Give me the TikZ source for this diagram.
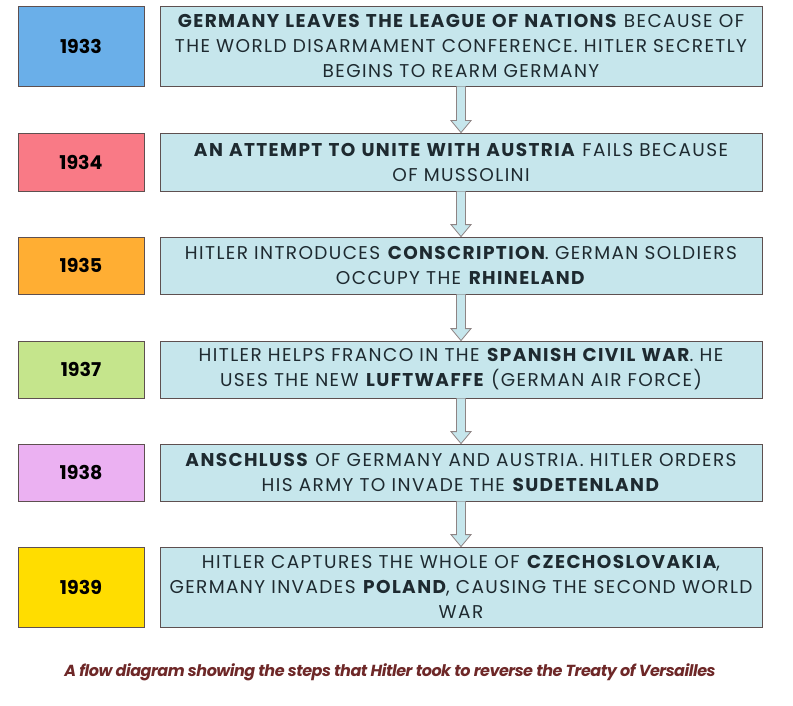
\documentclass[tikz,border=0pt]{standalone}
\usepackage{fontspec}
\usepackage{tikz}
\usetikzlibrary{calc}
\setmainfont{Poppins}
\newfontfamily\eventfont[LetterSpace=7.5]{Poppins}
\newfontfamily\capfont[LetterSpace=-3]{Poppins}

\definecolor{yearA}{HTML}{6AAFE9}
\definecolor{yearB}{HTML}{F97A86}
\definecolor{yearC}{HTML}{FFAE33}
\definecolor{yearD}{HTML}{C5E58C}
\definecolor{yearE}{HTML}{EBB1F2}
\definecolor{yearF}{HTML}{FFDD00}
\definecolor{eventfill}{HTML}{C6E6EC}
\definecolor{boxline}{HTML}{5E5050}
\definecolor{eventtext}{HTML}{1E2A30}
\definecolor{captext}{HTML}{6E2828}

\tikzset{
  yearbox/.style={draw=boxline,thick,minimum width=126pt,inner sep=0pt,
    font=\fontsize{19}{20}\selectfont\bfseries},
  eventbox/.style={draw=boxline,thick,fill=eventfill,minimum width=602pt,inner sep=0pt,
    text width=598pt,align=center,text=eventtext,font=\eventfont\fontsize{18.5}{25}\selectfont},
  flowarrow/.style={draw=boxline!70,thick,fill=eventfill,to path={
    ($(\tikztostart)+(-4.5,0)$) -- ($(\tikztotarget)+(-4.5,-12)$)
    -- ($(\tikztotarget)+(-10,-12)$) -- (\tikztotarget)
    -- ($(\tikztotarget)+(10,-12)$) -- ($(\tikztotarget)+(4.5,-12)$)
    -- ($(\tikztostart)+(4.5,0)$)}}
}

\begin{document}
\begin{tikzpicture}[x=1pt,y=-1pt]
  \useasboundingbox[fill=white] (0,0) rectangle (793,706);

  \node[yearbox,fill=yearA,minimum height=80pt] (y1) at (81,46)    {1933};
  \node[yearbox,fill=yearB,minimum height=58pt] (y2) at (81,162)   {1934};
  \node[yearbox,fill=yearC,minimum height=57pt] (y3) at (81,265.5) {1935};
  \node[yearbox,fill=yearD,minimum height=57pt] (y4) at (81,369.5) {1937};
  \node[yearbox,fill=yearE,minimum height=57pt] (y5) at (81,472.5) {1938};
  \node[yearbox,fill=yearF,minimum height=80pt] (y6) at (81,587)   {1939};

  \node[eventbox,minimum height=80pt] (e1) at (461,46)
    {\textbf{GERMANY LEAVES THE LEAGUE OF NATIONS} BECAUSE OF\\
     THE WORLD DISARMAMENT CONFERENCE. HITLER SECRETLY\\
     BEGINS TO REARM GERMANY};
  \node[eventbox,minimum height=58pt] (e2) at (461,162)
    {\textbf{AN ATTEMPT TO UNITE WITH AUSTRIA} FAILS BECAUSE\\
     OF MUSSOLINI};
  \node[eventbox,minimum height=57pt] (e3) at (461,265.5)
    {HITLER INTRODUCES \textbf{CONSCRIPTION}. GERMAN SOLDIERS\\
     OCCUPY THE \textbf{RHINELAND}};
  \node[eventbox,minimum height=57pt] (e4) at (461,369.5)
    {HITLER HELPS FRANCO IN THE \textbf{SPANISH CIVIL WAR}. HE\\
     USES THE NEW \textbf{LUFTWAFFE} (GERMAN AIR FORCE)};
  \node[eventbox,minimum height=57pt] (e5) at (461,472.5)
    {\textbf{ANSCHLUSS} OF GERMANY AND AUSTRIA. HITLER ORDERS\\
     HIS ARMY TO INVADE THE \textbf{SUDETENLAND}};
  \node[eventbox,minimum height=80pt] (e6) at (461,587)
    {HITLER CAPTURES THE WHOLE OF \textbf{CZECHOSLOVAKIA},\\
     GERMANY INVADES \textbf{POLAND}, CAUSING THE SECOND WORLD\\
     WAR};

  \node[text=captext,font=\capfont\bfseries\itshape\fontsize{16}{18}\selectfont] (cap) at (390,672)
    {A flow diagram showing the steps that Hitler took to reverse the Treaty of Versailles};

  \draw (e1.south) edge[flowarrow] (e2.north);
  \draw (e2.south) edge[flowarrow] (e3.north);
  \draw (e3.south) edge[flowarrow] (e4.north);
  \draw (e4.south) edge[flowarrow] (e5.north);
  \draw (e5.south) edge[flowarrow] (e6.north);
\end{tikzpicture}
\end{document}
